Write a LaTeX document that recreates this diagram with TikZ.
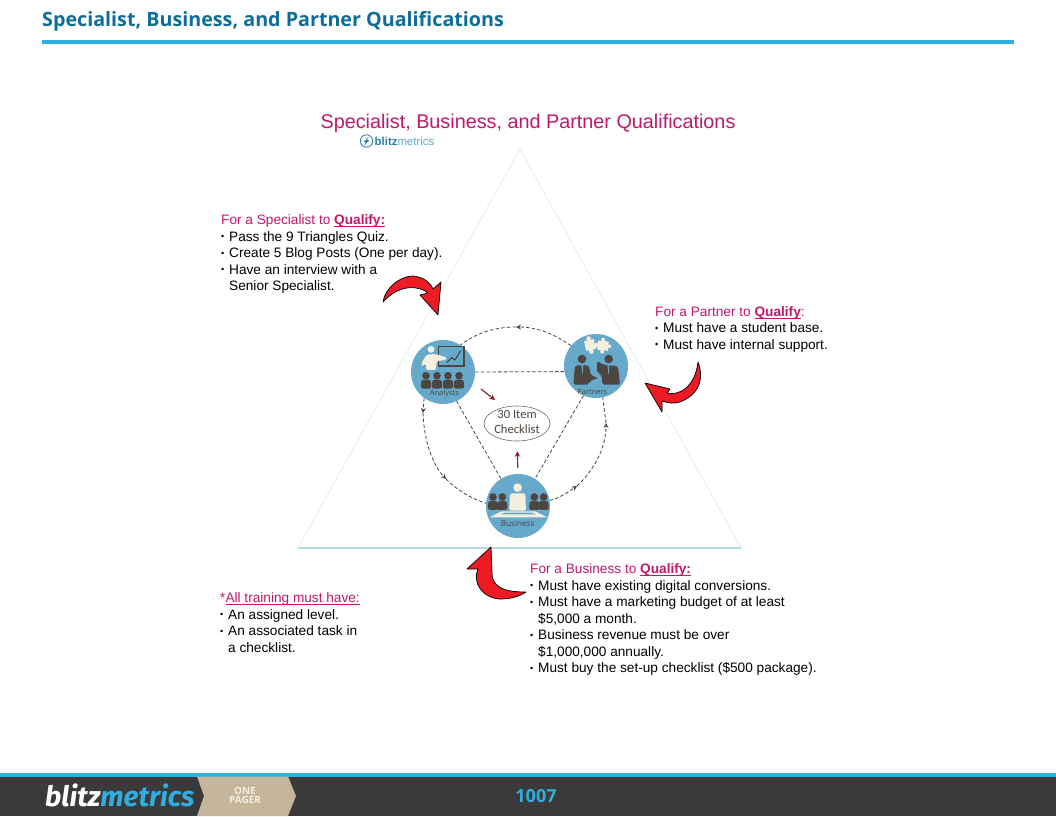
\documentclass[tikz,border=0pt]{standalone}
\usepackage{fontspec}
\setmainfont{Liberation Sans}
\newfontfamily\headfont{Open Sans}
\newfontfamily\logofont{Fira Sans}
\newfontfamily\checkfont{Carlito}
\usetikzlibrary{arrows.meta,shapes.geometric}
\definecolor{headblue}{HTML}{0F6E98}
\definecolor{ruleblue}{HTML}{2FAEDF}
\definecolor{footdark}{HTML}{3A3A3A}
\definecolor{foottan}{HTML}{C4B59B}
\definecolor{magentat}{HTML}{C2186C}
\definecolor{iconblue}{HTML}{66A9CB}
\definecolor{icondark}{HTML}{4D4540}
\definecolor{iconcream}{HTML}{F4EFDF}
\definecolor{triside}{HTML}{E4EDEA}
\definecolor{tribase}{HTML}{B5DAE6}
\definecolor{arrowred}{HTML}{ED1C24}
\definecolor{darkred}{HTML}{8C1C2A}
\definecolor{dashgray}{HTML}{484848}
\definecolor{logoteal}{HTML}{2A7FA5}
\definecolor{logolight}{HTML}{5FA8C8}
\newcommand\bul{\makebox[8pt][l]{\raisebox{1.4pt}{\fontsize{9}{9}\selectfont •}}}
\newcommand\ind{\hspace*{8pt}}
\newcommand\mg[1]{\textcolor{magentat}{#1}}
\newsavebox\ulbox
\newcommand\ulmg[1]{\sbox\ulbox{#1}\rlap{\rule[-2.4pt]{\wd\ulbox}{.8pt}}\usebox\ulbox}
\newcommand\zperson[2]{%
  \fill[icondark] (#1,#2) circle[radius=11.5];
  \fill[icondark,rounded corners=2.5pt] (#1-16,#2+39) -- (#1-14,#2+12) -- (#1+14,#2+12) -- (#1+16,#2+39) -- cycle;}
\tikzset{
  qualtext/.style={anchor=north west,inner sep=0pt,align=left,font=\fontsize{13.65}{16.55}\selectfont,text=black},
  hub/.style={circle,fill=iconblue,minimum size=64pt,inner sep=0pt},
  huburl/.style={inner sep=0pt,font=\headfont\fontsize{7.5}{8}\selectfont,text=icondark},
  ringline/.style={draw=dashgray,line width=.8pt,dash pattern=on 3.5pt off 2.2pt},
  ringarrow/.style={ringline,-{Stealth[length=5pt,width=5pt]}},
  redsmall/.style={draw=darkred,line width=1.1pt,-{Stealth[length=5.5pt,width=5.5pt]}},
  bigarrow/.style={fill=arrowred,draw=black,line width=.7pt,line join=round},
}
\begin{document}
\begin{tikzpicture}[x=1pt,y=-1pt]
\useasboundingbox (0,0) rectangle (1056,816);
\fill[white] (0,0) rectangle (1056,816);
% header
\node[anchor=west,inner sep=0pt,text=headblue,font=\headfont\bfseries\fontsize{19.7}{22}\selectfont] (header) at (42,21.5) {Specialist, Business, and Partner Qualifications};
\fill[ruleblue] (42,40) rectangle (1014,44);
% footer
\fill[footdark] (0,776) rectangle (1056,816);
\fill[ruleblue] (0,773) rectangle (1056,776.5);
\fill[foottan] (197,776.5) -- (288,776.5) -- (296,796) -- (288,816) -- (197,816) -- (204,796) -- cycle;
\node[inner sep=0pt,anchor=west,font=\logofont\bfseries\itshape\fontsize{28}{30}\selectfont] (flogo) at (45,795) {\textcolor{white}{blitz}\textcolor{ruleblue}{metrics}};
\node[inner sep=0pt,align=center,text=iconcream,font=\headfont\bfseries\fontsize{10}{9.5}\selectfont] (pager) at (245,795.5) {ONE\\PAGER};
\node[inner sep=0pt,text=ruleblue,font=\headfont\bfseries\fontsize{18}{20}\selectfont] (pageno) at (536,796) {1007};
% title
\node[inner sep=0pt,text=magentat,font=\fontsize{19.8}{22}\selectfont] (title) at (528,123.5) {Specialist, Business, and Partner Qualifications};
% small logo
\draw[logoteal,line width=.8pt] (366.5,141) circle[radius=6.2];
\fill[logoteal] (369,136.5) -- (363.5,142) -- (366,142) -- (364,145.5) -- (369.5,140) -- (367,140) -- cycle;
\node[inner sep=0pt,anchor=west,font=\fontsize{11.4}{14}\selectfont] (slogo) at (374.5,141.5) {\textcolor{logoteal}{\textbf{blitz}}\textcolor{logolight}{metrics}};
% triangle
\coordinate (apex) at (520,149);
\coordinate (baseL) at (298,548);
\coordinate (baseR) at (741,548);
\draw[triside,line width=.8pt] (baseL) -- (apex) -- (baseR);
\draw[tribase,line width=1.1pt] (baseL) -- (baseR);
% hubs
\node[hub] (analysts) at (443,372) {};
\node[hub] (partners) at (596,366) {};
\node[hub] (business) at (518,506) {};
\node[ellipse,draw=icondark!80,line width=.6pt,minimum width=66pt,minimum height=35pt,inner sep=0pt] (checklist) at (517,423.5) {};
\node[inner sep=0pt,align=center,text=icondark,font=\checkfont\fontsize{12.6}{15}\selectfont] (checklistLabel) at (517,421.5) {30 Item\\Checklist};
% straight dashed links
\draw[ringline] (analysts.east) -- (partners.190);
\draw[ringline] (analysts.-65) -- (business.122);
\draw[ringline] (partners.-113) -- (business.58);
% ring
\coordinate (ringTop) at (516,327);
\coordinate (ringL1) at (423,413);
\coordinate (ringL2) at (446,479);
\coordinate (ringR1) at (577,486);
\coordinate (ringR2) at (606,423);
\draw[ringarrow] (partners.141) .. controls (556,335) and (538,327) .. (ringTop);
\draw[ringline] (ringTop) .. controls (495,327) and (476,333) .. (analysts.57);
\draw[ringarrow] (analysts.234) -- (ringL1);
\draw[ringarrow] (ringL1) .. controls (424,440) and (432,464) .. (ringL2);
\draw[ringline] (ringL2) .. controls (457,490) and (470,498) .. (business.175);
\draw[ringarrow] (business.10) .. controls (560,498) and (568,492) .. (ringR1);
\draw[ringarrow] (ringR1) .. controls (592,472) and (606,450) .. (ringR2);
\draw[ringline] (ringR2) -- (partners.282);
% small red arrows
\coordinate (redA) at (481,389);
\coordinate (redB) at (495,400);
\draw[redsmall] (redA) -- (redB);
\draw[redsmall,shorten <=6pt,shorten >=10pt] (business.north) -- (checklist.south);
% icons: drawn in the coordinates of a 3x crop
\begin{scope}[shift={(390,310)},x=.3333pt,y=-.3333pt]
  % analysts
  \draw[icondark,line width=1.2pt] (145,110) rectangle (222,168);
  \draw[icondark,line width=1.1pt] (170,158) -- (185,143) -- (195,150) -- (212,122);
  \fill[iconcream] (123,118) circle[radius=10.5];
  \fill[iconcream,rounded corners=1.5pt] (108,180) -- (108,160) -- (96,170) -- (94,160) -- (110,134) -- (134,132) -- (170,142) -- (168,150) -- (140,153) -- (138,180) -- cycle;
  \zperson{108}{197}\zperson{141}{197}\zperson{174}{197}\zperson{207}{197}
  \node[huburl] (analystsLabel) at (163,252) {Analysts};
  % partners
  \begin{scope}[shift={(600,105)},rotate=12]
    \fill[iconcream] (-15,-15) rectangle (15,15);
    \fill[iconcream] (0,-20) circle[radius=7];
    \fill[iconcream] (0,20) circle[radius=7];
    \fill[iconblue] (18,0) circle[radius=6];
  \end{scope}
  \begin{scope}[shift={(638,107)},rotate=-5]
    \fill[iconcream] (-15,-14) rectangle (17,14);
    \fill[iconcream] (-20,0) circle[radius=7];
    \fill[iconcream] (20,0) circle[radius=6];
    \fill[iconcream] (0,-18) circle[radius=6];
    \fill[iconcream] (0,18) circle[radius=6];
  \end{scope}
  \fill[icondark] (576,147) circle[radius=13];
  \fill[icondark,rounded corners=2pt] (550,224) -- (555,166) -- (597,166) -- (602,195) -- (625,205) -- (600,212) -- (597,224) -- cycle;
  \fill[iconblue] (574,166) -- (580,166) -- (578,195) -- cycle;
  \fill[icondark] (656,147) circle[radius=13];
  \fill[icondark,rounded corners=2pt] (690,224) -- (684,168) -- (642,165) -- (622,153) -- (620,185) -- (635,195) -- (637,224) -- cycle;
  \fill[iconblue] (652,166) -- (658,166) -- (656,195) -- cycle;
  \node[huburl] (partnersLabel) at (607,246) {Partners};
  % business
  \zperson{309}{561}\zperson{337}{561}\zperson{433}{561}\zperson{461}{561}
  \fill[iconcream] (383,533) circle[radius=13];
  \fill[iconcream,rounded corners=2pt] (358,602) -- (360,550) -- (406,550) -- (408,602) -- cycle;
  \fill[iconblue] (330,602) rectangle (440,607);
  \fill[iconcream] (335,604) -- (435,604) -- (472,622) -- (298,622) -- cycle;
  \fill[iconblue] (345,608) -- (425,608) -- (438,613) -- (332,613) -- cycle;
  \node[huburl,font=\headfont\fontsize{8.2}{9}\selectfont] (businessLabel) at (383,642) {Business};
\end{scope}
% big red arrows
\draw[bigarrow] (383,302) .. controls (385,288) and (400,276) .. (413,276) .. controls (423,277) and (430,282) .. (433,289) -- (441,282) -- (438,315) -- (420,295) -- (428,293) .. controls (420,286) and (400,283) .. (383,302) -- cycle;
\draw[bigarrow] (698,362) .. controls (704,378) and (700,394) .. (680,402) .. controls (674,404) and (668,403) .. (662,401) -- (662,412) -- (645,383) -- (670,389) -- (667,393) .. controls (678,396) and (695,388) .. (698,362) -- cycle;
\draw[bigarrow] (491,547) -- (467,569) -- (478,569) .. controls (472,582) and (482,598) .. (500,599) .. controls (512,599) and (520,596) .. (526,592) .. controls (510,592) and (492,590) .. (492,573) -- cycle;
% texts
\node[qualtext] (specialistText) at (221,214.5) {\mg{For a Specialist to \ulmg{\textbf{Qualify:}}}\\
\bul Pass the 9 Triangles Quiz.\\
\bul Create 5 Blog Posts (One per day).\\
\bul Have an interview with a\\
\ind Senior Specialist.};
\node[qualtext] (partnerText) at (655,306) {\mg{For a Partner to \ulmg{\textbf{Qualify}}:}\\
\bul Must have a student base.\\
\bul Must have internal support.};
\node[qualtext] (businessText) at (530,563.5) {\mg{For a Business to \ulmg{\textbf{Qualify:}}}\\
\bul Must have existing digital conversions.\\
\bul Must have a marketing budget of at least\\
\ind \$5,000 a month.\\
\bul Business revenue must be over\\
\ind \$1,000,000 annually.\\
\bul Must buy the set-up checklist (\$500 package).};
\node[qualtext] (trainingText) at (220,592.5) {\mg{*\ulmg{All training must have:}}\\
\bul An assigned level.\\
\bul An associated task in\\
\ind a checklist.};
\end{tikzpicture}
\end{document}
